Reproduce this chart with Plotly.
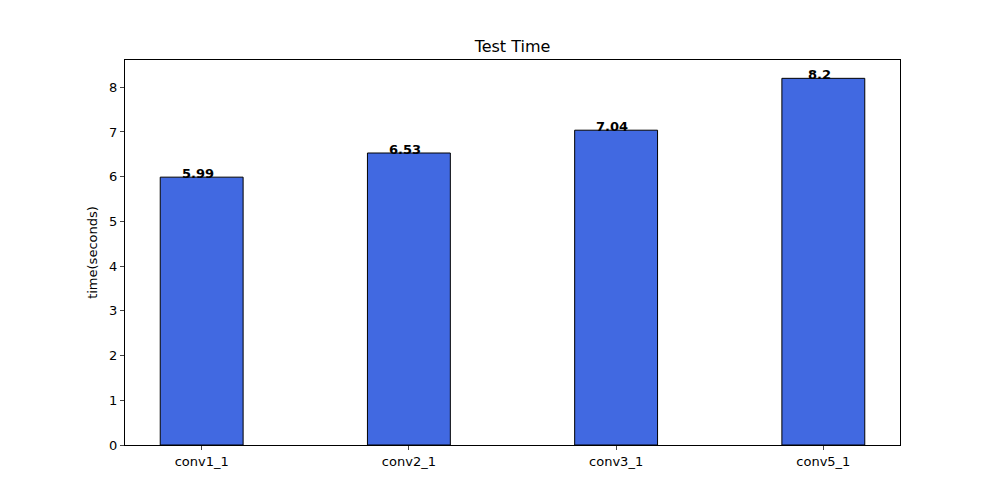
import plotly.graph_objects as go

categories = ["conv1_1", "conv2_1", "conv3_1", "conv5_1"]
values = [5.99, 6.53, 7.04, 8.2]
labels = ["5.99", "6.53", "7.04", "8.2"]

xs = list(range(len(categories)))
fig = go.Figure(go.Bar(x=xs, y=values, width=0.4, marker=dict(color="#4169e1", line=dict(color="black", width=1))))
for x, v, t in zip(xs, values, labels):
    fig.add_annotation(x=x, y=v, text="<b>"+t+"</b>", showarrow=False, xshift=-4, yanchor="middle", yshift=4,
                       font=dict(size=13, color="black", family="DejaVu Sans"))
fig.update_layout(
    width=1000, height=500, margin=dict(l=117, r=108, t=52, b=63),
    plot_bgcolor="white", paper_bgcolor="white",
    font=dict(family="DejaVu Sans", size=13, color="black"),
    title=dict(text="Test Time", x=(117 + (1000-117-108)/2)/1000, xanchor="center", y=1-38/500, yanchor="middle", font=dict(size=16)),
    showlegend=False,
)
fig.update_xaxes(range=[-0.37, 3.37], tickvals=xs, ticktext=categories, showline=True, mirror=True,
                 linecolor="black", ticks="outside", ticklen=4, showgrid=False, zeroline=False)
fig.update_yaxes(range=[0, 8.61], dtick=1, showline=True, mirror=True, linecolor="black", ticks="outside",
                 ticklen=4, showgrid=False, zeroline=False,
                 title=dict(text="time(seconds)", standoff=8, font=dict(size=13)))
fig.write_html("out.html")
